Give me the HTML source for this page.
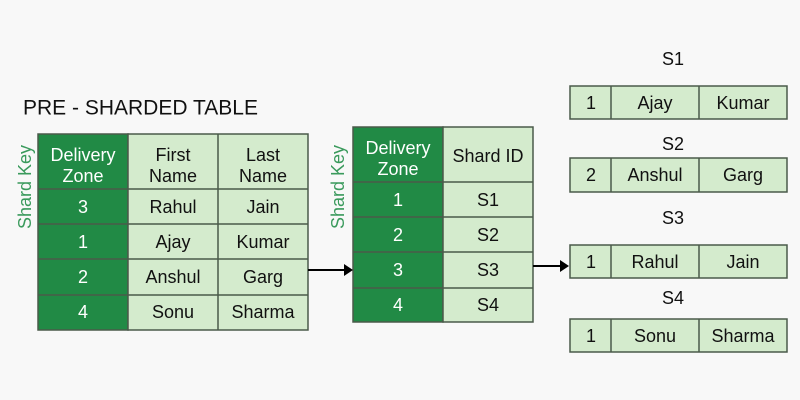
<!DOCTYPE html>
<html><head><style>
html,body{margin:0;padding:0;background:#f8f8f8;}
svg{display:block;}
text{font-family:"Liberation Sans","DejaVu Sans",sans-serif;font-size:18px;fill:#111;text-anchor:middle;dominant-baseline:central;}
.w{fill:#fff;}
.k{fill:#3a9a5c;}
</style></head><body>
<svg width="800" height="400" viewBox="0 0 800 400">
<rect width="800" height="400" fill="#f8f8f8"/>
<text x="23" y="108" style="text-anchor:start;font-size:21px">PRE - SHARDED TABLE</text>
<g stroke="#4a5a4a" stroke-width="1.5">
<rect x="38" y="134" width="90" height="196" fill="#218a45"/>
<rect x="128" y="134" width="180" height="196" fill="#d4ebcd"/>
<line x1="218" y1="134" x2="218" y2="330"/>
<line x1="38" y1="189" x2="308" y2="189"/>
<line x1="38" y1="224" x2="308" y2="224"/>
<line x1="38" y1="259" x2="308" y2="259"/>
<line x1="38" y1="295" x2="308" y2="295"/>
</g>
<text class="w" x="83" y="155">Delivery</text><text class="w" x="83" y="176">Zone</text>
<text x="173" y="155">First</text><text x="173" y="176">Name</text>
<text x="263" y="155">Last</text><text x="263" y="176">Name</text>
<text class="w" x="83" y="207">3</text><text x="173" y="207">Rahul</text><text x="263" y="207">Jain</text>
<text class="w" x="83" y="242">1</text><text x="173" y="242">Ajay</text><text x="263" y="242">Kumar</text>
<text class="w" x="83" y="277">2</text><text x="173" y="277">Anshul</text><text x="263" y="277">Garg</text>
<text class="w" x="83" y="312">4</text><text x="173" y="312">Sonu</text><text x="263" y="312">Sharma</text>
<text class="k" transform="translate(25,187) rotate(-90)">Shard Key</text>
<g stroke="#4a5a4a" stroke-width="1.5">
<rect x="353" y="127" width="90" height="195" fill="#218a45"/>
<rect x="443" y="127" width="90" height="195" fill="#d4ebcd"/>
<line x1="353" y1="182" x2="533" y2="182"/>
<line x1="353" y1="217" x2="533" y2="217"/>
<line x1="353" y1="252" x2="533" y2="252"/>
<line x1="353" y1="288" x2="533" y2="288"/>
</g>
<text class="w" x="398" y="148">Delivery</text><text class="w" x="398" y="169">Zone</text>
<text x="488" y="156">Shard ID</text>
<text class="w" x="398" y="200">1</text><text x="488" y="200">S1</text>
<text class="w" x="398" y="235">2</text><text x="488" y="235">S2</text>
<text class="w" x="398" y="270">3</text><text x="488" y="270">S3</text>
<text class="w" x="398" y="305">4</text><text x="488" y="305">S4</text>
<text class="k" transform="translate(338,187) rotate(-90)">Shard Key</text>
<g stroke="#000" stroke-width="2"><line x1="308" y1="270" x2="345" y2="270"/><line x1="533" y1="266" x2="562" y2="266"/></g>
<polygon points="353,270 344,264 344,276" fill="#000"/>
<polygon points="569,266 560,260 560,272" fill="#000"/>
<g stroke="#4a5a4a" stroke-width="1.5" fill="#d4ebcd">
<rect x="570" y="86" width="217" height="33"/><line x1="611" y1="86" x2="611" y2="119"/><line x1="699" y1="86" x2="699" y2="119"/>
<rect x="570" y="158" width="217" height="34"/><line x1="611" y1="158" x2="611" y2="192"/><line x1="699" y1="158" x2="699" y2="192"/>
<rect x="570" y="245" width="217" height="33"/><line x1="611" y1="245" x2="611" y2="278"/><line x1="699" y1="245" x2="699" y2="278"/>
<rect x="570" y="319" width="217" height="33"/><line x1="611" y1="319" x2="611" y2="352"/><line x1="699" y1="319" x2="699" y2="352"/>
</g>
<text x="673" y="59">S1</text>
<text x="591" y="103">1</text><text x="655" y="103">Ajay</text><text x="743" y="103">Kumar</text>
<text x="673" y="144">S2</text>
<text x="591" y="175">2</text><text x="655" y="175">Anshul</text><text x="743" y="175">Garg</text>
<text x="673" y="218">S3</text>
<text x="591" y="262">1</text><text x="655" y="262">Rahul</text><text x="743" y="262">Jain</text>
<text x="673" y="298">S4</text>
<text x="591" y="336">1</text><text x="655" y="336">Sonu</text><text x="743" y="336">Sharma</text>
</svg>
</body></html>
